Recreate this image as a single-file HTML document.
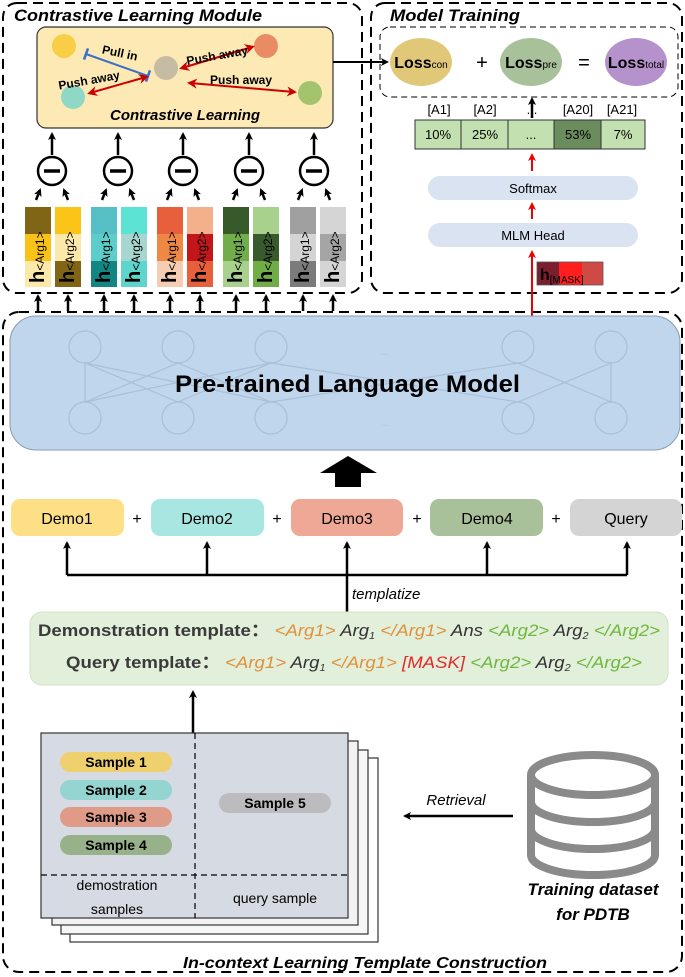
<!DOCTYPE html>
<html><head><meta charset="utf-8"><style>body{margin:0;background:#fff}svg{display:block}text{font-family:"Liberation Sans",sans-serif}</style></head><body>
<svg width="685" height="977" viewBox="0 0 685 977" xmlns="http://www.w3.org/2000/svg">
<defs>
<marker id="ab" markerWidth="8" markerHeight="8" refX="6" refY="4" orient="auto" markerUnits="userSpaceOnUse"><path d="M0,0 L8,4 L0,8 L2,4z" fill="#000"/></marker>
<marker id="ar" markerWidth="8" markerHeight="8" refX="6" refY="4" orient="auto" markerUnits="userSpaceOnUse"><path d="M0,0 L8,4 L0,8 L2,4z" fill="#e00"/></marker>
<marker id="adr" markerWidth="10" markerHeight="10" refX="7" refY="5" orient="auto-start-reverse" markerUnits="userSpaceOnUse"><path d="M0,0 L10,5 L0,10 L3,5z" fill="#c00"/></marker>
<marker id="tb" markerWidth="4" markerHeight="12" refX="2" refY="6" orient="auto-start-reverse" markerUnits="userSpaceOnUse"><path d="M2,0 L2,12" stroke="#3b6fc9" stroke-width="2.5"/></marker>
</defs>
<rect x="3" y="3" width="359" height="290" rx="14" fill="none" stroke="#000" stroke-width="2" stroke-dasharray="10,6"/>
<rect x="371" y="3" width="311" height="290" rx="14" fill="none" stroke="#000" stroke-width="2" stroke-dasharray="10,6"/>
<rect x="3" y="312" width="679" height="660" rx="16" fill="none" stroke="#000" stroke-width="2" stroke-dasharray="10,6"/>
<text x="14" y="21" font-size="17" font-weight="bold" font-style="italic" textLength="248" lengthAdjust="spacingAndGlyphs">Contrastive Learning Module</text>
<text x="390" y="21" font-size="17" font-weight="bold" font-style="italic" textLength="130" lengthAdjust="spacingAndGlyphs">Model Training</text>
<rect x="37" y="27" width="296" height="101" rx="9" fill="#fde9b4" stroke="#333" stroke-width="1.2"/>
<circle cx="64" cy="46" r="12" fill="#f9cd45"/>
<circle cx="73" cy="97" r="12" fill="#8fd8c5"/>
<circle cx="166" cy="68" r="12" fill="#c6bba3"/>
<circle cx="266" cy="46" r="12" fill="#e98c63"/>
<circle cx="310" cy="93" r="12" fill="#a3c46c"/>
<line x1="86" y1="54" x2="148" y2="76" stroke="#3b6fc9" stroke-width="2" marker-start="url(#tb)" marker-end="url(#tb)"/>
<text x="102" y="56" font-size="12" font-weight="bold" transform="rotate(12 115 52)">Pull in</text>
<line x1="90" y1="93" x2="146" y2="77" stroke="#c00" stroke-width="2" marker-start="url(#adr)" marker-end="url(#adr)"/>
<text x="58" y="85" font-size="12" font-weight="bold" transform="rotate(-10 85 80)">Push away</text>
<line x1="182" y1="68" x2="252" y2="47" stroke="#c00" stroke-width="2" marker-start="url(#adr)" marker-end="url(#adr)"/>
<text x="186" y="60" font-size="12" font-weight="bold" transform="rotate(-10 215 55)">Push away</text>
<line x1="190" y1="83" x2="294" y2="92" stroke="#c00" stroke-width="2" marker-start="url(#adr)" marker-end="url(#adr)"/>
<text x="210" y="84" font-size="12" font-weight="bold">Push away</text>
<text x="185" y="120" font-size="15" font-weight="bold" font-style="italic" text-anchor="middle">Contrastive Learning</text>
<g stroke="#000" stroke-width="2.5">
<circle cx="52" cy="171" r="14" fill="#fff"/><line x1="44" y1="171" x2="60" y2="171" stroke-width="3.5"/>
<circle cx="118" cy="171" r="14" fill="#fff"/><line x1="110" y1="171" x2="126" y2="171" stroke-width="3.5"/>
<circle cx="183" cy="171" r="14" fill="#fff"/><line x1="175" y1="171" x2="191" y2="171" stroke-width="3.5"/>
<circle cx="249" cy="171" r="14" fill="#fff"/><line x1="241" y1="171" x2="257" y2="171" stroke-width="3.5"/>
<circle cx="314" cy="171" r="14" fill="#fff"/><line x1="306" y1="171" x2="322" y2="171" stroke-width="3.5"/>
<line x1="52" y1="155" x2="52" y2="134" marker-end="url(#ab)"/>
<line x1="118" y1="155" x2="118" y2="134" marker-end="url(#ab)"/>
<line x1="183" y1="155" x2="183" y2="134" marker-end="url(#ab)"/>
<line x1="249" y1="155" x2="249" y2="134" marker-end="url(#ab)"/>
<line x1="314" y1="155" x2="314" y2="134" marker-end="url(#ab)"/>
<line x1="36" y1="200" x2="40" y2="190" marker-end="url(#ab)"/><line x1="68" y1="200" x2="64" y2="190" marker-end="url(#ab)"/>
<line x1="102" y1="200" x2="106" y2="190" marker-end="url(#ab)"/><line x1="134" y1="200" x2="130" y2="190" marker-end="url(#ab)"/>
<line x1="167" y1="200" x2="171" y2="190" marker-end="url(#ab)"/><line x1="199" y1="200" x2="195" y2="190" marker-end="url(#ab)"/>
<line x1="233" y1="200" x2="237" y2="190" marker-end="url(#ab)"/><line x1="265" y1="200" x2="261" y2="190" marker-end="url(#ab)"/>
<line x1="298" y1="200" x2="302" y2="190" marker-end="url(#ab)"/><line x1="330" y1="200" x2="326" y2="190" marker-end="url(#ab)"/>
<line x1="38" y1="311" x2="38" y2="296" marker-end="url(#ab)"/><line x1="68" y1="311" x2="68" y2="296" marker-end="url(#ab)"/>
<line x1="104" y1="311" x2="104" y2="296" marker-end="url(#ab)"/><line x1="134" y1="311" x2="134" y2="296" marker-end="url(#ab)"/>
<line x1="170" y1="311" x2="170" y2="296" marker-end="url(#ab)"/><line x1="200" y1="311" x2="200" y2="296" marker-end="url(#ab)"/>
<line x1="236" y1="311" x2="236" y2="296" marker-end="url(#ab)"/><line x1="266" y1="311" x2="266" y2="296" marker-end="url(#ab)"/>
<line x1="303" y1="311" x2="303" y2="296" marker-end="url(#ab)"/><line x1="333" y1="311" x2="333" y2="296" marker-end="url(#ab)"/>
</g>
<g>
<rect x="25" y="207" width="26" height="27" fill="#7f6515"/><rect x="25" y="234" width="26" height="27" fill="#f9c219"/><rect x="25" y="261" width="26" height="26" fill="#fce8a8"/>
<rect x="55" y="207" width="26" height="27" fill="#fac418"/><rect x="55" y="234" width="26" height="27" fill="#fce8a8"/><rect x="55" y="261" width="26" height="26" fill="#7f6515"/>
<rect x="91" y="207" width="26" height="27" fill="#57c0c7"/><rect x="91" y="234" width="26" height="27" fill="#5ccdc9"/><rect x="91" y="261" width="26" height="26" fill="#138683"/>
<rect x="121" y="207" width="26" height="27" fill="#5de3d3"/><rect x="121" y="234" width="26" height="27" fill="#a6d6cf"/><rect x="121" y="261" width="26" height="26" fill="#5dd5cc"/>
<rect x="157" y="207" width="26" height="27" fill="#e8603b"/><rect x="157" y="234" width="26" height="27" fill="#ef8844"/><rect x="157" y="261" width="26" height="26" fill="#f6cdb2"/>
<rect x="187" y="207" width="26" height="27" fill="#f4b08b"/><rect x="187" y="234" width="26" height="27" fill="#c2161b"/><rect x="187" y="261" width="26" height="26" fill="#e8603b"/>
<rect x="223" y="207" width="26" height="27" fill="#375a2b"/><rect x="223" y="234" width="26" height="27" fill="#72ad4c"/><rect x="223" y="261" width="26" height="26" fill="#a9d18e"/>
<rect x="253" y="207" width="26" height="27" fill="#a9d18e"/><rect x="253" y="234" width="26" height="27" fill="#385a2c"/><rect x="253" y="261" width="26" height="26" fill="#70ad47"/>
<rect x="290" y="207" width="26" height="27" fill="#a0a0a0"/><rect x="290" y="234" width="26" height="27" fill="#d4d4d4"/><rect x="290" y="261" width="26" height="26" fill="#7b7b7b"/>
<rect x="320" y="207" width="26" height="27" fill="#d5d5d5"/><rect x="320" y="234" width="26" height="27" fill="#a5a5a5"/><rect x="320" y="261" width="26" height="26" fill="#d5d5d5"/>
</g>
<g font-size="12">
<text transform="translate(44,283) rotate(-90)"><tspan font-size="20" font-weight="bold">h</tspan>&lt;Arg1&gt;</text>
<text transform="translate(74,283) rotate(-90)"><tspan font-size="20" font-weight="bold">h</tspan>&lt;Arg2&gt;</text>
<text transform="translate(110,283) rotate(-90)"><tspan font-size="20" font-weight="bold">h</tspan>&lt;Arg1&gt;</text>
<text transform="translate(140,283) rotate(-90)"><tspan font-size="20" font-weight="bold">h</tspan>&lt;Arg2&gt;</text>
<text transform="translate(176,283) rotate(-90)"><tspan font-size="20" font-weight="bold">h</tspan>&lt;Arg1&gt;</text>
<text transform="translate(206,283) rotate(-90)"><tspan font-size="20" font-weight="bold">h</tspan>&lt;Arg2&gt;</text>
<text transform="translate(242,283) rotate(-90)"><tspan font-size="20" font-weight="bold">h</tspan>&lt;Arg1&gt;</text>
<text transform="translate(272,283) rotate(-90)"><tspan font-size="20" font-weight="bold">h</tspan>&lt;Arg2&gt;</text>
<text transform="translate(309,283) rotate(-90)"><tspan font-size="20" font-weight="bold">h</tspan>&lt;Arg1&gt;</text>
<text transform="translate(339,283) rotate(-90)"><tspan font-size="20" font-weight="bold">h</tspan>&lt;Arg2&gt;</text>
</g>
<line x1="333" y1="62" x2="387" y2="62" stroke="#000" stroke-width="2" marker-end="url(#ab)"/>
<rect x="380" y="27" width="298" height="70" rx="10" fill="none" stroke="#000" stroke-width="1" stroke-dasharray="6,4"/>
<ellipse cx="421" cy="62" rx="31" ry="24" fill="#e0c878"/>
<ellipse cx="531" cy="62" rx="31" ry="24" fill="#a9c19a"/>
<ellipse cx="636" cy="62" rx="31" ry="24" fill="#b592cc"/>
<text x="421" y="68" font-size="16" font-weight="bold" text-anchor="middle">Loss<tspan font-size="10" font-weight="normal">con</tspan></text>
<text x="531" y="68" font-size="16" font-weight="bold" text-anchor="middle">Loss<tspan font-size="10" font-weight="normal">pre</tspan></text>
<text x="636" y="68" font-size="16" font-weight="bold" text-anchor="middle">Loss<tspan font-size="10" font-weight="normal">total</tspan></text>
<text x="482" y="69" font-size="20" text-anchor="middle">+</text>
<text x="584" y="69" font-size="20" text-anchor="middle">=</text>
<g font-size="13" text-anchor="middle"><text x="439" y="114">[A1]</text><text x="485" y="114">[A2]</text><text x="532" y="114">...</text><text x="578" y="114">[A20]</text><text x="622" y="114">[A21]</text></g>
<line x1="532" y1="118" x2="532" y2="99" stroke="#000" stroke-width="2.5" marker-end="url(#ab)"/>
<g stroke="#333" stroke-width="1"><rect x="415" y="120" width="46" height="29" fill="#c2e0b0"/><rect x="461" y="120" width="47" height="29" fill="#c2e0b0"/><rect x="508" y="120" width="46" height="29" fill="#c2e0b0"/><rect x="554" y="120" width="47" height="29" fill="#6b8c5d"/><rect x="601" y="120" width="44" height="29" fill="#c2e0b0"/></g>
<g font-size="13" text-anchor="middle"><text x="438" y="139">10%</text><text x="485" y="139">25%</text><text x="531" y="139">...</text><text x="578" y="139">53%</text><text x="623" y="139">7%</text></g>
<rect x="428" y="176" width="210" height="24" rx="12" fill="#dae3f1"/>
<text x="533" y="193" font-size="13" text-anchor="middle">Softmax</text>
<rect x="428" y="223" width="210" height="24" rx="12" fill="#dae3f1"/>
<text x="533" y="240" font-size="13" text-anchor="middle">MLM Head</text>
<g stroke="#e00" stroke-width="2"><line x1="532" y1="171" x2="532" y2="155" marker-end="url(#ar)"/><line x1="532" y1="219" x2="532" y2="204" marker-end="url(#ar)"/><line x1="532" y1="316" x2="532" y2="252" marker-end="url(#ar)"/></g>
<rect x="537" y="262" width="22" height="23" fill="#7b1f2e"/><rect x="559" y="262" width="23" height="23" fill="#ff1f1f"/><rect x="582" y="262" width="21" height="23" fill="#d04a45"/>
<rect x="537" y="262" width="66" height="23" fill="none" stroke="#555" stroke-width="0.8"/>
<text x="540" y="280" font-size="16" font-weight="bold">h<tspan font-size="10" font-weight="normal" dy="3">[MASK]</tspan></text>
<rect x="10" y="316" width="670" height="134" rx="26" fill="#bfd6ec" stroke="#8a9bb0" stroke-width="1"/>
<g stroke="#a9bfd6" fill="none" stroke-width="1.2">
<ellipse cx="85" cy="347" rx="16" ry="16"/><ellipse cx="178" cy="347" rx="16" ry="16"/><ellipse cx="271" cy="347" rx="16" ry="16"/><ellipse cx="518" cy="347" rx="16" ry="16"/><ellipse cx="611" cy="347" rx="16" ry="16"/>
<ellipse cx="85" cy="418" rx="16" ry="16"/><ellipse cx="178" cy="418" rx="16" ry="16"/><ellipse cx="271" cy="418" rx="16" ry="16"/><ellipse cx="518" cy="418" rx="16" ry="16"/><ellipse cx="611" cy="418" rx="16" ry="16"/>
<path d="M85,363 L85,402 M85,363 L178,402 M85,363 L271,402 M178,363 L85,402 M178,363 L271,402 M271,363 L85,402 M271,363 L178,402 M518,363 L611,402 M611,363 L518,402 M611,363 L611,402 M271,363 L518,402 M518,363 L271,402"/>
</g>
<text x="385" y="355" font-size="10" fill="#a9bfd6" text-anchor="middle">...</text>
<text x="385" y="426" font-size="10" fill="#a9bfd6" text-anchor="middle">...</text>
<text x="175" y="392" font-size="24" font-weight="bold" textLength="345" lengthAdjust="spacingAndGlyphs">Pre-trained Language Model</text>
<path d="M320,473 L348,456 L377,473 L361,473 L361,487 L335,487 L335,473z" fill="#000"/>
<rect x="11" y="499" width="113" height="37" rx="9" fill="#fde086"/>
<rect x="151" y="499" width="113" height="37" rx="9" fill="#a8e6e2"/>
<rect x="291" y="499" width="112" height="37" rx="9" fill="#f0a896"/>
<rect x="430" y="499" width="113" height="37" rx="9" fill="#a9c19a"/>
<rect x="570" y="499" width="112" height="37" rx="9" fill="#d4d4d4"/>
<g font-size="16" text-anchor="middle"><text x="67" y="524">Demo1</text><text x="207" y="524">Demo2</text><text x="347" y="524">Demo3</text><text x="487" y="524">Demo4</text><text x="626" y="524">Query</text>
<text x="137" y="524">+</text><text x="277" y="524">+</text><text x="417" y="524">+</text><text x="556" y="524">+</text></g>
<g stroke="#000" stroke-width="2.5" fill="none">
<path d="M67,575 L627,575"/>
<line x1="67" y1="575" x2="67" y2="543" marker-end="url(#ab)"/><line x1="207" y1="575" x2="207" y2="543" marker-end="url(#ab)"/><line x1="347" y1="612" x2="347" y2="543" marker-end="url(#ab)"/><line x1="487" y1="575" x2="487" y2="543" marker-end="url(#ab)"/><line x1="627" y1="575" x2="627" y2="543" marker-end="url(#ab)"/>
<line x1="193" y1="733" x2="193" y2="692" marker-end="url(#ab)"/>
<line x1="513" y1="816" x2="405" y2="816" marker-end="url(#ab)"/>
</g>
<text x="352" y="599" font-size="15" font-style="italic">templatize</text>
<rect x="30" y="612" width="638" height="73" rx="12" fill="#e2efda" stroke="#d2e3c6"/>
<text x="38" y="636" font-size="17" textLength="622" lengthAdjust="spacingAndGlyphs"><tspan font-weight="bold" fill="#3a3a3a">Demonstration template：</tspan><tspan font-style="italic" fill="#e0913c"> &lt;Arg1&gt;</tspan><tspan font-style="italic" fill="#333"> Arg<tspan font-size="10" dy="3">1</tspan></tspan><tspan font-style="italic" fill="#e0913c" dy="-3"> &lt;/Arg1&gt;</tspan><tspan font-style="italic" fill="#333"> Ans</tspan><tspan font-style="italic" fill="#6fb83f"> &lt;Arg2&gt;</tspan><tspan font-style="italic" fill="#333"> Arg<tspan font-size="10" dy="3">2</tspan></tspan><tspan font-style="italic" fill="#6fb83f" dy="-3"> &lt;/Arg2&gt;</tspan></text>
<text x="66" y="668" font-size="17" textLength="576" lengthAdjust="spacingAndGlyphs"><tspan font-weight="bold" fill="#3a3a3a">Query template：</tspan><tspan font-style="italic" fill="#e0913c"> &lt;Arg1&gt;</tspan><tspan font-style="italic" fill="#333"> Arg<tspan font-size="10" dy="3">1</tspan></tspan><tspan font-style="italic" fill="#e0913c" dy="-3"> &lt;/Arg1&gt;</tspan><tspan font-style="italic" fill="#e52a2a"> [MASK]</tspan><tspan font-style="italic" fill="#6fb83f"> &lt;Arg2&gt;</tspan><tspan font-style="italic" fill="#333"> Arg<tspan font-size="10" dy="3">2</tspan></tspan><tspan font-style="italic" fill="#6fb83f" dy="-3"> &lt;/Arg2&gt;</tspan></text>
<g stroke="#333" stroke-width="1.2">
<rect x="70" y="758" width="308" height="184" fill="#fff"/>
<rect x="61" y="750" width="307" height="184" fill="#f7f7f7"/>
<rect x="52" y="741" width="306" height="184" fill="#f2f2f2"/>
<rect x="41" y="733" width="307" height="185" fill="#d6dae2"/>
</g>
<g stroke="#000" stroke-width="1.2" stroke-dasharray="6,4"><line x1="195" y1="733" x2="195" y2="918"/><line x1="41" y1="875" x2="348" y2="875"/></g>
<rect x="60" y="752" width="112" height="20" rx="10" fill="#efd06e"/>
<rect x="60" y="780" width="112" height="20" rx="10" fill="#94d5d2"/>
<rect x="60" y="807" width="112" height="20" rx="10" fill="#e09b88"/>
<rect x="60" y="835" width="112" height="20" rx="10" fill="#97b28a"/>
<rect x="219" y="793" width="112" height="20" rx="10" fill="#bcbcbe"/>
<g font-size="14" font-weight="bold" text-anchor="middle"><text x="116" y="767">Sample 1</text><text x="116" y="795">Sample 2</text><text x="116" y="822">Sample 3</text><text x="116" y="850">Sample 4</text><text x="275" y="808">Sample 5</text></g>
<g font-size="14" text-anchor="middle"><text x="117" y="890">demostration</text><text x="117" y="914">samples</text><text x="275" y="903">query sample</text></g>
<text x="456" y="805" font-size="15" font-style="italic" text-anchor="middle">Retrieval</text>
<g stroke="#8a8a8a" stroke-width="8" fill="none">
<ellipse cx="593" cy="775" rx="62" ry="20"/>
<path d="M531,775 L531,855 A62,20 0 0 0 655,855 L655,775"/>
<path d="M531,802 A62,20 0 0 0 655,802"/>
<path d="M531,829 A62,20 0 0 0 655,829"/>
</g>
<g font-size="17" font-weight="bold" font-style="italic" text-anchor="middle"><text x="593" y="895">Training dataset</text><text x="593" y="920">for PDTB</text></g>
<text x="183" y="968" font-size="16" font-weight="bold" font-style="italic" textLength="364" lengthAdjust="spacingAndGlyphs">In-context Learning Template Construction</text>
</svg>
</body></html>
